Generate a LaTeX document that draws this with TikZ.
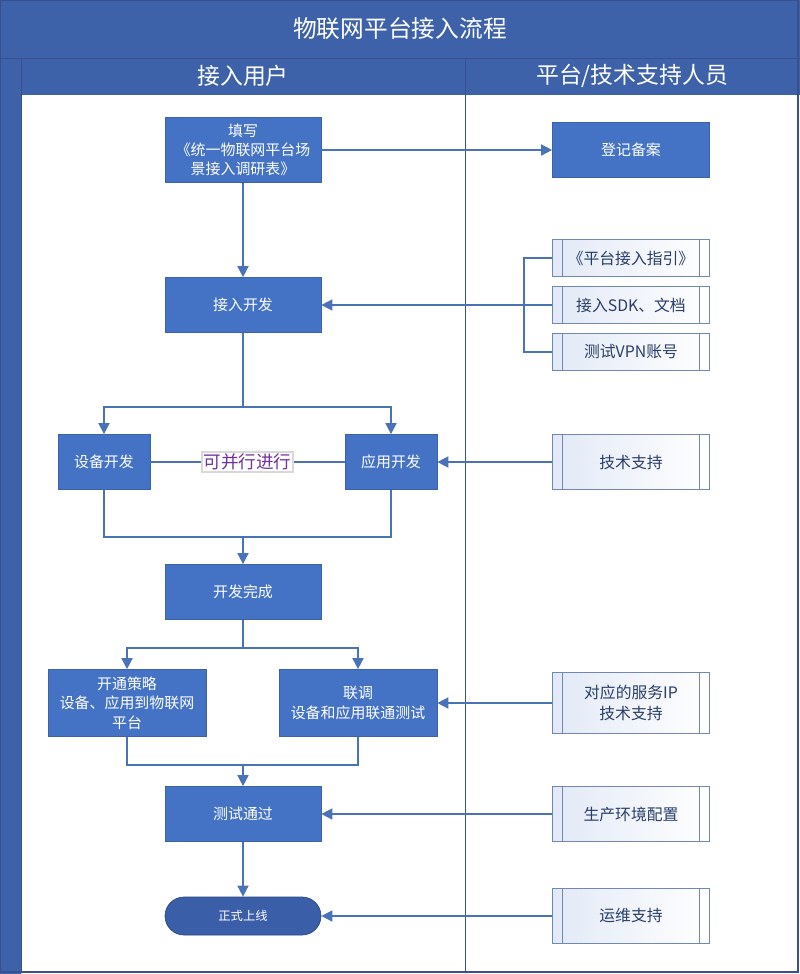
\documentclass[tikz,border=0pt]{standalone}
\usepackage{fontspec}
\setmainfont{Noto Sans CJK SC}
\usepackage{tikz}
\usetikzlibrary{
  arrows.meta,
  calc,
  positioning
}
\definecolor{bandblue}{RGB}{62,98,170}
\definecolor{bandline}{RGB}{58,80,140}
\definecolor{procblue}{RGB}{68,114,196}
\definecolor{procline}{RGB}{60,98,170}
\definecolor{flowline}{RGB}{74,114,185}
\definecolor{sideline}{RGB}{112,136,182}
\definecolor{sidefill}{RGB}{226,233,246}
\definecolor{sidetext}{RGB}{40,62,105}
\definecolor{endblue}{RGB}{59,94,168}
\definecolor{endline}{RGB}{45,72,130}
\definecolor{parapurple}{RGB}{112,48,160}

\begin{document}
\begin{tikzpicture}[
  x=0.02cm, y=-0.02cm,
  proc/.style={draw=procline, fill=procblue, text=white, minimum width=3.12cm,
               minimum height=1.1cm, align=center, inner sep=2pt,
               font=\fontsize{8.5}{11}\selectfont},
  side/.style={draw=sideline, left color=sidefill, right color=white, text=sidetext,
               minimum width=3.14cm, minimum height=1.1cm, align=center,
               font=\fontsize{9}{12}\selectfont,
               path picture={
                 \draw[sideline] ([xshift=0.2cm]path picture bounding box.north west)
                   -- ([xshift=0.2cm]path picture bounding box.south west);
                 \draw[sideline] ([xshift=-0.2cm]path picture bounding box.north east)
                   -- ([xshift=-0.2cm]path picture bounding box.south east);}},
  term/.style={draw=endline, fill=endblue, text=white, minimum width=3.12cm,
               minimum height=0.76cm, rounded corners=0.38cm,
               font=\fontsize{7}{9}\selectfont},
  para/.style={draw=black!15, fill=white, text=parapurple, inner sep=1pt,
               font=\fontsize{10}{12}\selectfont},
  lane/.style={text=white, font=\fontsize{13}{15}\selectfont},
  line/.style={draw=flowline, line width=0.9pt},
  arr/.style={line, -{Triangle[length=2.2mm, width=2.2mm]}}
]

% frame and lanes
\useasboundingbox (0,0) rectangle (800,974);
\fill[white] (0,0) rectangle (800,974);
\fill[bandblue] (0,0) rectangle (800,95);
\fill[bandblue] (0,95) rectangle (21,974);
\draw[bandline] (0,58) -- (800,58);
\draw[bandline] (21,58) -- (21,972);
\draw[bandline] (465,58) -- (465,972);
\draw[bandline, line width=1pt] (0.5,0.5) rectangle (798,972);

\node[text=white, font=\fontsize{13.5}{16}\selectfont] (title) at (400,29) {物联网平台接入流程};
\node[lane] (user) at (243,76) {接入用户};
\node[lane] (staff) at (632,76) {平台/技术支持人员};

% registration
\node[proc, minimum height=1.3cm] (form) at (243,150) {填写\\《统一物联网平台场\\景接入调研表》};
\node[proc, minimum width=3.14cm] (record) at (631,150) {登记备案};
\draw[arr] (form) -- (record);

% access development
\node[proc] (dev) at (243,305) {接入开发};
\node[side, minimum height=0.74cm] (guide) at (631,258) {《平台接入指引》};
\node[side, minimum height=0.74cm] (sdk) at (631,305) {接入SDK、文档};
\node[side, minimum height=0.74cm] (vpn) at (631,352) {测试VPN账号};
\coordinate (brk) at (524,305);
\draw[arr] (form) -- (dev);
\draw[line] (guide.west) -| (brk) |- (vpn.west);
\draw[arr] (sdk.west) -- (dev.east);

% parallel development
\node[proc, minimum width=1.84cm] (hwdev) at (104,462) {设备开发};
\node[proc, minimum width=1.84cm] (appdev) at (391,462) {应用开发};
\node[side] (support) at (631,462) {技术支持};
\coordinate (split1) at (243,407);
\coordinate (merge1) at (243,537);
\draw[line] (dev.south) -- (split1);
\draw[arr] (split1) -| (hwdev.north);
\draw[arr] (split1) -| (appdev.north);
\draw[line] (hwdev) -- (appdev) node[para, midway] (parallel) {可并行进行};
\draw[arr] (support) -- (appdev);
\draw[line] (hwdev.south) |- (merge1);
\draw[line] (appdev.south) |- (merge1);

% integration
\node[proc] (done) at (243,592) {开发完成};
\draw[arr] (merge1) -- (done.north);
\node[proc, minimum width=3.16cm, minimum height=1.34cm] (policy) at (127,703) {开通策略\\设备、应用到物联网\\平台};
\node[proc, minimum width=3.16cm, minimum height=1.34cm] (joint) at (358,703) {联调\\设备和应用联通测试};
\node[side, minimum height=1.22cm] (ipsup) at (631,703) {对应的服务IP\\技术支持};
\coordinate (split2) at (243,648);
\coordinate (merge2) at (243,765);
\draw[line] (done.south) -- (split2);
\draw[arr] (split2) -| (policy.north);
\draw[arr] (split2) -| (joint.north);
\draw[arr] (ipsup) -- (joint);
\draw[line] (policy.south) |- (merge2);
\draw[line] (joint.south) |- (merge2);

% test and launch
\node[proc] (pass) at (243,814) {测试通过};
\node[side] (prodcfg) at (631,814) {生产环境配置};
\draw[arr] (merge2) -- (pass.north);
\draw[arr] (prodcfg) -- (pass);
\node[term] (launch) at (243,916) {正式上线};
\node[side] (ops) at (631,916) {运维支持};
\draw[arr] (pass) -- (launch);
\draw[arr] (ops) -- (launch);

\end{tikzpicture}
\end{document}
